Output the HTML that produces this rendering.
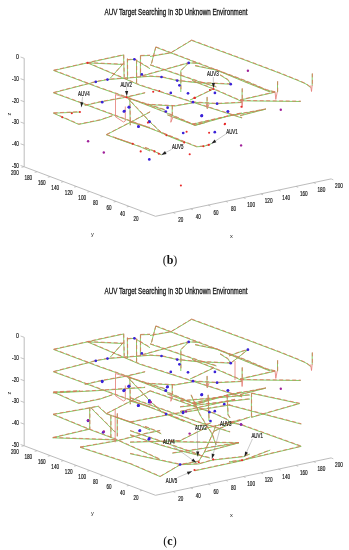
<!DOCTYPE html>
<html><head><meta charset="utf-8"><title>AUV Target Searching</title>
<style>html,body{margin:0;padding:0;background:#fff;}svg{display:block;font-family:'Liberation Sans', Arial, sans-serif;}</style>
</head><body>
<svg width="349" height="550" viewBox="0 0 349 550">
<rect width="349" height="550" fill="#fff"/>
<text x="176.0" y="15.1" font-size="8.8" text-anchor="middle" fill="#1a1a1a" textLength="143" lengthAdjust="spacingAndGlyphs" stroke="#111" stroke-width="0.3">AUV Target Searching In 3D Unknown Environment</text>
<path d="M24.2 58.3V166.8L155.5 216.3L331.1 178.9" fill="none" stroke="#b4b4b4" stroke-width="0.9"/>
<path d="M24.2 58.3l-3.6 -1.3" stroke="#b4b4b4" stroke-width="0.8"/>
<text x="18.9" y="59.3" font-size="7.2" text-anchor="end" fill="#1a1a1a" textLength="2.9" lengthAdjust="spacingAndGlyphs" stroke="#111" stroke-width="0.2">0</text>
<path d="M24.2 80.0l-3.6 -1.3" stroke="#b4b4b4" stroke-width="0.8"/>
<text x="18.9" y="81.0" font-size="7.2" text-anchor="end" fill="#1a1a1a" textLength="6.8" lengthAdjust="spacingAndGlyphs" stroke="#111" stroke-width="0.2">-10</text>
<path d="M24.2 101.7l-3.6 -1.3" stroke="#b4b4b4" stroke-width="0.8"/>
<text x="18.9" y="102.7" font-size="7.2" text-anchor="end" fill="#1a1a1a" textLength="6.8" lengthAdjust="spacingAndGlyphs" stroke="#111" stroke-width="0.2">-20</text>
<path d="M24.2 123.4l-3.6 -1.3" stroke="#b4b4b4" stroke-width="0.8"/>
<text x="18.9" y="124.4" font-size="7.2" text-anchor="end" fill="#1a1a1a" textLength="6.8" lengthAdjust="spacingAndGlyphs" stroke="#111" stroke-width="0.2">-30</text>
<path d="M24.2 145.1l-3.6 -1.3" stroke="#b4b4b4" stroke-width="0.8"/>
<text x="18.9" y="146.1" font-size="7.2" text-anchor="end" fill="#1a1a1a" textLength="6.8" lengthAdjust="spacingAndGlyphs" stroke="#111" stroke-width="0.2">-40</text>
<path d="M24.2 166.8l-3.6 -1.3" stroke="#b4b4b4" stroke-width="0.8"/>
<text x="18.9" y="167.8" font-size="7.2" text-anchor="end" fill="#1a1a1a" textLength="6.8" lengthAdjust="spacingAndGlyphs" stroke="#111" stroke-width="0.2">-50</text>
<path d="M142.3 211.4l-2.4 0.5" stroke="#b4b4b4" stroke-width="0.8"/>
<text x="136.0" y="220.5" font-size="7.2" text-anchor="middle" fill="#1a1a1a" textLength="5.0" lengthAdjust="spacingAndGlyphs" stroke="#111" stroke-width="0.2">20</text>
<path d="M129.2 206.4l-2.4 0.5" stroke="#b4b4b4" stroke-width="0.8"/>
<text x="122.5" y="215.5" font-size="7.2" text-anchor="middle" fill="#1a1a1a" textLength="5.0" lengthAdjust="spacingAndGlyphs" stroke="#111" stroke-width="0.2">40</text>
<path d="M116.0 201.5l-2.4 0.5" stroke="#b4b4b4" stroke-width="0.8"/>
<text x="109.1" y="210.4" font-size="7.2" text-anchor="middle" fill="#1a1a1a" textLength="5.0" lengthAdjust="spacingAndGlyphs" stroke="#111" stroke-width="0.2">60</text>
<path d="M102.9 196.5l-2.4 0.5" stroke="#b4b4b4" stroke-width="0.8"/>
<text x="95.6" y="205.4" font-size="7.2" text-anchor="middle" fill="#1a1a1a" textLength="5.0" lengthAdjust="spacingAndGlyphs" stroke="#111" stroke-width="0.2">80</text>
<path d="M89.7 191.6l-2.4 0.5" stroke="#b4b4b4" stroke-width="0.8"/>
<text x="82.2" y="200.3" font-size="7.2" text-anchor="middle" fill="#1a1a1a" textLength="7.8" lengthAdjust="spacingAndGlyphs" stroke="#111" stroke-width="0.2">100</text>
<path d="M76.5 186.6l-2.4 0.5" stroke="#b4b4b4" stroke-width="0.8"/>
<text x="68.7" y="195.3" font-size="7.2" text-anchor="middle" fill="#1a1a1a" textLength="7.8" lengthAdjust="spacingAndGlyphs" stroke="#111" stroke-width="0.2">120</text>
<path d="M63.4 181.7l-2.4 0.5" stroke="#b4b4b4" stroke-width="0.8"/>
<text x="55.2" y="190.3" font-size="7.2" text-anchor="middle" fill="#1a1a1a" textLength="7.8" lengthAdjust="spacingAndGlyphs" stroke="#111" stroke-width="0.2">140</text>
<path d="M50.2 176.7l-2.4 0.5" stroke="#b4b4b4" stroke-width="0.8"/>
<text x="41.8" y="185.2" font-size="7.2" text-anchor="middle" fill="#1a1a1a" textLength="7.8" lengthAdjust="spacingAndGlyphs" stroke="#111" stroke-width="0.2">160</text>
<path d="M37.1 171.8l-2.4 0.5" stroke="#b4b4b4" stroke-width="0.8"/>
<text x="28.3" y="180.2" font-size="7.2" text-anchor="middle" fill="#1a1a1a" textLength="7.8" lengthAdjust="spacingAndGlyphs" stroke="#111" stroke-width="0.2">180</text>
<path d="M23.9 166.8l-2.4 0.5" stroke="#b4b4b4" stroke-width="0.8"/>
<text x="14.9" y="175.1" font-size="7.2" text-anchor="middle" fill="#1a1a1a" textLength="7.8" lengthAdjust="spacingAndGlyphs" stroke="#111" stroke-width="0.2">200</text>
<path d="M173.1 212.6l2.2 0.9" stroke="#b4b4b4" stroke-width="0.8"/>
<text x="180.7" y="222.4" font-size="7.2" text-anchor="middle" fill="#1a1a1a" textLength="5.0" lengthAdjust="spacingAndGlyphs" stroke="#111" stroke-width="0.2">20</text>
<path d="M190.6 208.8l2.2 0.9" stroke="#b4b4b4" stroke-width="0.8"/>
<text x="198.3" y="218.6" font-size="7.2" text-anchor="middle" fill="#1a1a1a" textLength="5.0" lengthAdjust="spacingAndGlyphs" stroke="#111" stroke-width="0.2">40</text>
<path d="M208.2 205.1l2.2 0.9" stroke="#b4b4b4" stroke-width="0.8"/>
<text x="215.9" y="214.8" font-size="7.2" text-anchor="middle" fill="#1a1a1a" textLength="5.0" lengthAdjust="spacingAndGlyphs" stroke="#111" stroke-width="0.2">60</text>
<path d="M225.7 201.3l2.2 0.9" stroke="#b4b4b4" stroke-width="0.8"/>
<text x="233.5" y="211.0" font-size="7.2" text-anchor="middle" fill="#1a1a1a" textLength="5.0" lengthAdjust="spacingAndGlyphs" stroke="#111" stroke-width="0.2">80</text>
<path d="M243.3 197.6l2.2 0.9" stroke="#b4b4b4" stroke-width="0.8"/>
<text x="251.1" y="207.2" font-size="7.2" text-anchor="middle" fill="#1a1a1a" textLength="7.8" lengthAdjust="spacingAndGlyphs" stroke="#111" stroke-width="0.2">100</text>
<path d="M260.9 193.9l2.2 0.9" stroke="#b4b4b4" stroke-width="0.8"/>
<text x="268.6" y="203.4" font-size="7.2" text-anchor="middle" fill="#1a1a1a" textLength="7.8" lengthAdjust="spacingAndGlyphs" stroke="#111" stroke-width="0.2">120</text>
<path d="M278.4 190.1l2.2 0.9" stroke="#b4b4b4" stroke-width="0.8"/>
<text x="286.2" y="199.6" font-size="7.2" text-anchor="middle" fill="#1a1a1a" textLength="7.8" lengthAdjust="spacingAndGlyphs" stroke="#111" stroke-width="0.2">140</text>
<path d="M296.0 186.4l2.2 0.9" stroke="#b4b4b4" stroke-width="0.8"/>
<text x="303.8" y="195.8" font-size="7.2" text-anchor="middle" fill="#1a1a1a" textLength="7.8" lengthAdjust="spacingAndGlyphs" stroke="#111" stroke-width="0.2">160</text>
<path d="M313.5 182.6l2.2 0.9" stroke="#b4b4b4" stroke-width="0.8"/>
<text x="321.4" y="192.0" font-size="7.2" text-anchor="middle" fill="#1a1a1a" textLength="7.8" lengthAdjust="spacingAndGlyphs" stroke="#111" stroke-width="0.2">180</text>
<path d="M331.1 178.9l2.2 0.9" stroke="#b4b4b4" stroke-width="0.8"/>
<text x="339.0" y="188.2" font-size="7.2" text-anchor="middle" fill="#1a1a1a" textLength="7.8" lengthAdjust="spacingAndGlyphs" stroke="#111" stroke-width="0.2">200</text>
<text x="92.5" y="235.6" font-size="5.6" text-anchor="middle" fill="#1a1a1a">y</text>
<text x="231.5" y="237.6" font-size="5.6" text-anchor="middle" fill="#1a1a1a">x</text>
<text x="0" y="0" font-size="5.6" text-anchor="middle" fill="#1a1a1a" transform="translate(10.8 114.1) rotate(-90)">z</text>
<path d="M53.6 70.5 L87.5 62.9 L100.0 60.1 L123.6 55.0 M123.6 55.0 L124.1 77.2 M87.5 62.9 L123.0 64.5 M123.3 63.6 L110.0 78.5 M127.3 58.8 L127.5 79.4 M127.2 60.0 L134.4 59.3 L150.0 68.7 M136.5 60.0 L136.5 83.0 M140.4 55.8 L140.4 77.2 M140.4 55.8 L150.0 55.5 M53.6 70.5 L100.0 88.0 L126.5 97.2 L165.0 112.2 L195.0 125.4 L227.7 116.2 L265.8 109.2 M87.5 62.9 L140.0 85.3 L195.0 103.0 L242.0 118.0 M53.4 92.8 L95.8 81.8 L107.5 79.6 L150.0 76.3 L161.5 77.0 L177.2 80.6 L195.0 82.5 L230.7 84.2 M220.0 75.0 L228.0 80.0 L230.7 84.2 M53.4 92.8 L81.3 103.0 L100.0 110.0 L145.0 126.5 L162.2 133.0 L196.6 146.8 L203.4 146.3 L208.8 144.9 L211.3 143.7 M126.5 97.1 L149.4 121.5 L162.3 133.7 M129.3 98.6 L165.0 110.0 M53.4 113.2 L79.9 112.0 M53.4 113.2 L62.3 117.2 L78.7 124.4 L100.0 120.1 L112.3 115.9 M78.7 124.4 M84.7 105.5 L100.0 102.0 L126.5 97.2 L145.0 92.9 M106.3 134.8 L131.3 121.9 L150.0 112.0 M106.3 134.8 L140.7 147.0 L150.0 151.0 M129.5 121.9 L150.0 127.9 M115.0 138.0 L133.6 144.4 M145.0 147.7 L154.5 151.4 L158.8 153.7 L161.3 154.9 M129.8 98.0 L130.2 125.4 M155.7 47.2 L151.4 63.7 M155.7 47.2 L170.8 52.9 L200.0 64.0 L245.0 80.8 L266.4 90.0 L275.1 92.2 M191.5 40.4 L170.8 52.9 L150.0 56.5 M191.5 40.4 L245.0 60.1 L280.0 73.3 L298.0 80.5 L306.0 84.0 L310.6 87.5 M142.0 76.0 L188.7 62.9 L200.0 63.5 M188.7 62.9 L180.8 70.8 L180.8 92.0 M150.0 65.0 L200.0 82.0 L216.5 87.0 M195.0 65.8 L216.5 70.1 L245.0 82.0 L270.0 92.0 M275.1 92.2 L240.0 100.1 M240.0 100.8 L300.7 101.5 M240.0 115.8 L265.5 109.2 M277.5 81.5 L277.5 92.2 M312.2 73.7 L312.2 85.6 M242.1 88.6 L242.1 100.0 M192.0 80.7 L213.5 89.0 L242.0 101.5 M213.5 89.0 L194.9 97.9 L190.0 100.0 M192.0 102.2 L217.1 103.7 L242.0 102.5 M192.0 124.4 L242.0 113.0 M145.0 104.4 L175.0 106.0 L192.0 103.0 M172.2 105.8 L172.2 115.1 M162.2 133.0 L166.5 135.3 L184.2 142.5 M167.3 115.0 L194.9 125.3 L205.0 122.7 M207.0 97.2 L207.0 108.7" fill="none" stroke="#7ccc62" stroke-width="0.95" stroke-linejoin="round"/>
<path d="M53.6 70.5 L87.5 62.9 L100.0 60.1 L123.6 55.0 M123.6 55.0 L124.1 77.2 M87.5 62.9 L123.0 64.5 M123.3 63.6 L110.0 78.5 M127.3 58.8 L127.5 79.4 M127.2 60.0 L134.4 59.3 L150.0 68.7 M136.5 60.0 L136.5 83.0 M140.4 55.8 L140.4 77.2 M140.4 55.8 L150.0 55.5 M53.6 70.5 L100.0 88.0 L126.5 97.2 L165.0 112.2 L195.0 125.4 L227.7 116.2 L265.8 109.2 M87.5 62.9 L140.0 85.3 L195.0 103.0 L242.0 118.0 M53.4 92.8 L95.8 81.8 L107.5 79.6 L150.0 76.3 L161.5 77.0 L177.2 80.6 L195.0 82.5 L230.7 84.2 M220.0 75.0 L228.0 80.0 L230.7 84.2 M53.4 92.8 L81.3 103.0 L100.0 110.0 L145.0 126.5 L162.2 133.0 L196.6 146.8 L203.4 146.3 L208.8 144.9 L211.3 143.7 M126.5 97.1 L149.4 121.5 L162.3 133.7 M129.3 98.6 L165.0 110.0 M53.4 113.2 L79.9 112.0 M53.4 113.2 L62.3 117.2 L78.7 124.4 L100.0 120.1 L112.3 115.9 M78.7 124.4 M84.7 105.5 L100.0 102.0 L126.5 97.2 L145.0 92.9 M106.3 134.8 L131.3 121.9 L150.0 112.0 M106.3 134.8 L140.7 147.0 L150.0 151.0 M129.5 121.9 L150.0 127.9 M115.0 138.0 L133.6 144.4 M145.0 147.7 L154.5 151.4 L158.8 153.7 L161.3 154.9 M129.8 98.0 L130.2 125.4 M155.7 47.2 L151.4 63.7 M155.7 47.2 L170.8 52.9 L200.0 64.0 L245.0 80.8 L266.4 90.0 L275.1 92.2 M191.5 40.4 L170.8 52.9 L150.0 56.5 M191.5 40.4 L245.0 60.1 L280.0 73.3 L298.0 80.5 L306.0 84.0 L310.6 87.5 M142.0 76.0 L188.7 62.9 L200.0 63.5 M188.7 62.9 L180.8 70.8 L180.8 92.0 M150.0 65.0 L200.0 82.0 L216.5 87.0 M195.0 65.8 L216.5 70.1 L245.0 82.0 L270.0 92.0 M275.1 92.2 L240.0 100.1 M240.0 100.8 L300.7 101.5 M240.0 115.8 L265.5 109.2 M277.5 81.5 L277.5 92.2 M312.2 73.7 L312.2 85.6 M242.1 88.6 L242.1 100.0 M192.0 80.7 L213.5 89.0 L242.0 101.5 M213.5 89.0 L194.9 97.9 L190.0 100.0 M192.0 102.2 L217.1 103.7 L242.0 102.5 M192.0 124.4 L242.0 113.0 M145.0 104.4 L175.0 106.0 L192.0 103.0 M172.2 105.8 L172.2 115.1 M162.2 133.0 L166.5 135.3 L184.2 142.5 M167.3 115.0 L194.9 125.3 L205.0 122.7 M207.0 97.2 L207.0 108.7" fill="none" stroke="#e07058" stroke-width="0.8" stroke-linejoin="round" stroke-dasharray="4 2.5" transform="translate(0.2 -0.35)"/>
<path d="M310.6 85.6 L311.5 91.5 L312.2 85.0 M275.1 92.2 L275.8 99.4 L277.2 92.0 M241.5 99.5 L242.1 107.5 L242.8 100.0 M115.5 94.5 L115.5 116.8 L123.5 122.0 L125.3 121.0 L125.3 106.5 M115.5 94.5 L126.6 97.9 M206.5 104.0 L207.5 108.7 L209.0 104.0 M171.5 115.0 L170.8 122.3 L173.0 117.0" fill="none" stroke="#e47a74" stroke-width="0.8" stroke-linejoin="round"/>
<circle cx="95.8" cy="81.8" r="1.35" fill="#3a22d8"/>
<circle cx="107.5" cy="79.6" r="1.35" fill="#3a22d8"/>
<circle cx="134.4" cy="59.3" r="1.35" fill="#3a22d8"/>
<circle cx="141.8" cy="74.4" r="1.35" fill="#3a22d8"/>
<circle cx="161.5" cy="77.0" r="1.35" fill="#3a22d8"/>
<circle cx="177.2" cy="80.6" r="1.35" fill="#3a22d8"/>
<circle cx="188.7" cy="62.9" r="1.35" fill="#3a22d8"/>
<circle cx="230.7" cy="84.2" r="1.35" fill="#3a22d8"/>
<circle cx="102.2" cy="102.2" r="1.35" fill="#3a22d8"/>
<circle cx="129.0" cy="107.2" r="1.35" fill="#3a22d8"/>
<circle cx="124.4" cy="111.1" r="1.35" fill="#3a22d8"/>
<circle cx="170.8" cy="92.9" r="1.35" fill="#3a22d8"/>
<circle cx="179.4" cy="85.3" r="1.35" fill="#3a22d8"/>
<circle cx="188.0" cy="93.3" r="1.35" fill="#3a22d8"/>
<circle cx="193.0" cy="102.2" r="1.35" fill="#3a22d8"/>
<circle cx="167.6" cy="107.7" r="1.35" fill="#3a22d8"/>
<circle cx="165.8" cy="111.5" r="1.35" fill="#3a22d8"/>
<circle cx="214.9" cy="92.9" r="1.35" fill="#3a22d8"/>
<circle cx="217.1" cy="103.7" r="1.35" fill="#3a22d8"/>
<circle cx="201.7" cy="115.8" r="1.35" fill="#3a22d8"/>
<circle cx="227.8" cy="111.5" r="1.35" fill="#3a22d8"/>
<circle cx="138.5" cy="126.7" r="1.35" fill="#3a22d8"/>
<circle cx="149.3" cy="159.4" r="1.35" fill="#3a22d8"/>
<circle cx="149.3" cy="121.9" r="1.35" fill="#3a22d8"/>
<circle cx="183.2" cy="133.0" r="1.35" fill="#3a22d8"/>
<circle cx="201.9" cy="115.7" r="1.35" fill="#3a22d8"/>
<circle cx="228.0" cy="111.5" r="1.35" fill="#3a22d8"/>
<circle cx="214.8" cy="132.2" r="1.35" fill="#3a22d8"/>
<circle cx="201.7" cy="115.9" r="1.35" fill="#3a22d8"/>
<circle cx="128.9" cy="107.2" r="1.35" fill="#3a22d8"/>
<circle cx="123.9" cy="111.5" r="1.35" fill="#3a22d8"/>
<circle cx="138.4" cy="126.5" r="1.35" fill="#3a22d8"/>
<circle cx="149.4" cy="121.5" r="1.35" fill="#3a22d8"/>
<circle cx="132.7" cy="143.7" r="1.05" fill="#e82a2a"/>
<circle cx="87.5" cy="62.9" r="1.05" fill="#e82a2a"/>
<circle cx="71.8" cy="113.2" r="1.05" fill="#e82a2a"/>
<circle cx="79.9" cy="112.0" r="1.05" fill="#e82a2a"/>
<circle cx="62.3" cy="117.2" r="1.05" fill="#e82a2a"/>
<circle cx="126.5" cy="97.2" r="1.05" fill="#e82a2a"/>
<circle cx="153.2" cy="91.8" r="1.05" fill="#e82a2a"/>
<circle cx="159.3" cy="91.0" r="1.05" fill="#e82a2a"/>
<circle cx="194.4" cy="97.9" r="1.05" fill="#e82a2a"/>
<circle cx="209.9" cy="90.0" r="1.05" fill="#e82a2a"/>
<circle cx="213.5" cy="89.0" r="1.05" fill="#e82a2a"/>
<circle cx="194.9" cy="97.9" r="1.05" fill="#e82a2a"/>
<circle cx="225.0" cy="123.7" r="1.05" fill="#e82a2a"/>
<circle cx="166.5" cy="135.3" r="1.05" fill="#e82a2a"/>
<circle cx="184.2" cy="142.5" r="1.05" fill="#e82a2a"/>
<circle cx="203.4" cy="146.3" r="1.05" fill="#e82a2a"/>
<circle cx="154.5" cy="151.4" r="1.05" fill="#e82a2a"/>
<circle cx="158.8" cy="153.7" r="1.05" fill="#e82a2a"/>
<circle cx="140.7" cy="151.4" r="1.05" fill="#e82a2a"/>
<circle cx="209.1" cy="132.8" r="1.05" fill="#e82a2a"/>
<circle cx="224.7" cy="124.3" r="1.05" fill="#e82a2a"/>
<circle cx="208.8" cy="144.9" r="1.05" fill="#e82a2a"/>
<circle cx="180.9" cy="185.5" r="1.05" fill="#e82a2a"/>
<circle cx="189.7" cy="154.2" r="1.05" fill="#e82a2a"/>
<circle cx="186.6" cy="131.8" r="1.05" fill="#e82a2a"/>
<circle cx="147.9" cy="122.6" r="1.05" fill="#e82a2a"/>
<circle cx="241.4" cy="106.7" r="1.05" fill="#e82a2a"/>
<circle cx="88.1" cy="141.2" r="1.2" fill="#a0209a"/>
<circle cx="247.9" cy="70.7" r="1.2" fill="#a0209a"/>
<circle cx="280.8" cy="109.8" r="1.2" fill="#a0209a"/>
<circle cx="103.8" cy="152.5" r="1.2" fill="#a0209a"/>
<circle cx="241.1" cy="145.4" r="1.2" fill="#a0209a"/>
<text x="83.8" y="96.1" font-size="7.6" text-anchor="middle" fill="#1a1a1a" textLength="11.6" lengthAdjust="spacingAndGlyphs" stroke="#111" stroke-width="0.22">AUV4</text>
<path d="M82.6 96.9L81.3 107.2" stroke="#888" stroke-width="0.45"/>
<path d="M81.3 107.2L80.3 102.0L83.5 102.4Z" fill="#222"/>
<text x="126.2" y="86.6" font-size="7.6" text-anchor="middle" fill="#1a1a1a" textLength="11.6" lengthAdjust="spacingAndGlyphs" stroke="#111" stroke-width="0.22">AUV2</text>
<path d="M126.5 86.5L126.8 96.0" stroke="#888" stroke-width="0.45"/>
<path d="M126.8 96.0L125.0 91.1L128.2 91.0Z" fill="#222"/>
<text x="212.9" y="76.4" font-size="7.6" text-anchor="middle" fill="#1a1a1a" textLength="11.6" lengthAdjust="spacingAndGlyphs" stroke="#111" stroke-width="0.22">AUV3</text>
<path d="M213.3 77.0L213.5 88.0" stroke="#888" stroke-width="0.45"/>
<path d="M213.5 88.0L211.8 83.0L215.0 83.0Z" fill="#222"/>
<text x="232.0" y="133.5" font-size="7.6" text-anchor="middle" fill="#1a1a1a" textLength="11.6" lengthAdjust="spacingAndGlyphs" stroke="#111" stroke-width="0.22">AUV1</text>
<path d="M226.8 133.4L211.3 143.7" stroke="#888" stroke-width="0.45"/>
<path d="M211.3 143.7L214.6 139.6L216.3 142.3Z" fill="#222"/>
<text x="177.7" y="149.2" font-size="7.6" text-anchor="middle" fill="#1a1a1a" textLength="11.6" lengthAdjust="spacingAndGlyphs" stroke="#111" stroke-width="0.22">AUV5</text>
<path d="M171.6 149.4L161.3 154.9" stroke="#888" stroke-width="0.45"/>
<path d="M161.3 154.9L165.0 151.1L166.5 154.0Z" fill="#222"/>
<text x="176.0" y="294.1" font-size="8.8" text-anchor="middle" fill="#1a1a1a" textLength="143" lengthAdjust="spacingAndGlyphs" stroke="#111" stroke-width="0.3">AUV Target Searching In 3D Unknown Environment</text>
<path d="M24.2 337.3V445.8L155.5 495.3L331.1 457.9" fill="none" stroke="#b4b4b4" stroke-width="0.9"/>
<path d="M24.2 337.3l-3.6 -1.3" stroke="#b4b4b4" stroke-width="0.8"/>
<text x="18.9" y="338.2" font-size="7.2" text-anchor="end" fill="#1a1a1a" textLength="2.9" lengthAdjust="spacingAndGlyphs" stroke="#111" stroke-width="0.2">0</text>
<path d="M24.2 359.0l-3.6 -1.3" stroke="#b4b4b4" stroke-width="0.8"/>
<text x="18.9" y="359.9" font-size="7.2" text-anchor="end" fill="#1a1a1a" textLength="6.8" lengthAdjust="spacingAndGlyphs" stroke="#111" stroke-width="0.2">-10</text>
<path d="M24.2 380.7l-3.6 -1.3" stroke="#b4b4b4" stroke-width="0.8"/>
<text x="18.9" y="381.6" font-size="7.2" text-anchor="end" fill="#1a1a1a" textLength="6.8" lengthAdjust="spacingAndGlyphs" stroke="#111" stroke-width="0.2">-20</text>
<path d="M24.2 402.4l-3.6 -1.3" stroke="#b4b4b4" stroke-width="0.8"/>
<text x="18.9" y="403.3" font-size="7.2" text-anchor="end" fill="#1a1a1a" textLength="6.8" lengthAdjust="spacingAndGlyphs" stroke="#111" stroke-width="0.2">-30</text>
<path d="M24.2 424.1l-3.6 -1.3" stroke="#b4b4b4" stroke-width="0.8"/>
<text x="18.9" y="425.1" font-size="7.2" text-anchor="end" fill="#1a1a1a" textLength="6.8" lengthAdjust="spacingAndGlyphs" stroke="#111" stroke-width="0.2">-40</text>
<path d="M24.2 445.8l-3.6 -1.3" stroke="#b4b4b4" stroke-width="0.8"/>
<text x="18.9" y="446.8" font-size="7.2" text-anchor="end" fill="#1a1a1a" textLength="6.8" lengthAdjust="spacingAndGlyphs" stroke="#111" stroke-width="0.2">-50</text>
<path d="M142.3 490.4l-2.4 0.5" stroke="#b4b4b4" stroke-width="0.8"/>
<text x="136.0" y="499.5" font-size="7.2" text-anchor="middle" fill="#1a1a1a" textLength="5.0" lengthAdjust="spacingAndGlyphs" stroke="#111" stroke-width="0.2">20</text>
<path d="M129.2 485.4l-2.4 0.5" stroke="#b4b4b4" stroke-width="0.8"/>
<text x="122.5" y="494.5" font-size="7.2" text-anchor="middle" fill="#1a1a1a" textLength="5.0" lengthAdjust="spacingAndGlyphs" stroke="#111" stroke-width="0.2">40</text>
<path d="M116.0 480.4l-2.4 0.5" stroke="#b4b4b4" stroke-width="0.8"/>
<text x="109.1" y="489.4" font-size="7.2" text-anchor="middle" fill="#1a1a1a" textLength="5.0" lengthAdjust="spacingAndGlyphs" stroke="#111" stroke-width="0.2">60</text>
<path d="M102.9 475.5l-2.4 0.5" stroke="#b4b4b4" stroke-width="0.8"/>
<text x="95.6" y="484.4" font-size="7.2" text-anchor="middle" fill="#1a1a1a" textLength="5.0" lengthAdjust="spacingAndGlyphs" stroke="#111" stroke-width="0.2">80</text>
<path d="M89.7 470.6l-2.4 0.5" stroke="#b4b4b4" stroke-width="0.8"/>
<text x="82.2" y="479.3" font-size="7.2" text-anchor="middle" fill="#1a1a1a" textLength="7.8" lengthAdjust="spacingAndGlyphs" stroke="#111" stroke-width="0.2">100</text>
<path d="M76.5 465.6l-2.4 0.5" stroke="#b4b4b4" stroke-width="0.8"/>
<text x="68.7" y="474.3" font-size="7.2" text-anchor="middle" fill="#1a1a1a" textLength="7.8" lengthAdjust="spacingAndGlyphs" stroke="#111" stroke-width="0.2">120</text>
<path d="M63.4 460.7l-2.4 0.5" stroke="#b4b4b4" stroke-width="0.8"/>
<text x="55.2" y="469.3" font-size="7.2" text-anchor="middle" fill="#1a1a1a" textLength="7.8" lengthAdjust="spacingAndGlyphs" stroke="#111" stroke-width="0.2">140</text>
<path d="M50.2 455.7l-2.4 0.5" stroke="#b4b4b4" stroke-width="0.8"/>
<text x="41.8" y="464.2" font-size="7.2" text-anchor="middle" fill="#1a1a1a" textLength="7.8" lengthAdjust="spacingAndGlyphs" stroke="#111" stroke-width="0.2">160</text>
<path d="M37.1 450.8l-2.4 0.5" stroke="#b4b4b4" stroke-width="0.8"/>
<text x="28.3" y="459.2" font-size="7.2" text-anchor="middle" fill="#1a1a1a" textLength="7.8" lengthAdjust="spacingAndGlyphs" stroke="#111" stroke-width="0.2">180</text>
<path d="M23.9 445.8l-2.4 0.5" stroke="#b4b4b4" stroke-width="0.8"/>
<text x="14.9" y="454.1" font-size="7.2" text-anchor="middle" fill="#1a1a1a" textLength="7.8" lengthAdjust="spacingAndGlyphs" stroke="#111" stroke-width="0.2">200</text>
<path d="M173.1 491.6l2.2 0.9" stroke="#b4b4b4" stroke-width="0.8"/>
<text x="180.7" y="501.4" font-size="7.2" text-anchor="middle" fill="#1a1a1a" textLength="5.0" lengthAdjust="spacingAndGlyphs" stroke="#111" stroke-width="0.2">20</text>
<path d="M190.6 487.8l2.2 0.9" stroke="#b4b4b4" stroke-width="0.8"/>
<text x="198.3" y="497.6" font-size="7.2" text-anchor="middle" fill="#1a1a1a" textLength="5.0" lengthAdjust="spacingAndGlyphs" stroke="#111" stroke-width="0.2">40</text>
<path d="M208.2 484.1l2.2 0.9" stroke="#b4b4b4" stroke-width="0.8"/>
<text x="215.9" y="493.8" font-size="7.2" text-anchor="middle" fill="#1a1a1a" textLength="5.0" lengthAdjust="spacingAndGlyphs" stroke="#111" stroke-width="0.2">60</text>
<path d="M225.7 480.3l2.2 0.9" stroke="#b4b4b4" stroke-width="0.8"/>
<text x="233.5" y="490.0" font-size="7.2" text-anchor="middle" fill="#1a1a1a" textLength="5.0" lengthAdjust="spacingAndGlyphs" stroke="#111" stroke-width="0.2">80</text>
<path d="M243.3 476.6l2.2 0.9" stroke="#b4b4b4" stroke-width="0.8"/>
<text x="251.1" y="486.2" font-size="7.2" text-anchor="middle" fill="#1a1a1a" textLength="7.8" lengthAdjust="spacingAndGlyphs" stroke="#111" stroke-width="0.2">100</text>
<path d="M260.9 472.9l2.2 0.9" stroke="#b4b4b4" stroke-width="0.8"/>
<text x="268.6" y="482.4" font-size="7.2" text-anchor="middle" fill="#1a1a1a" textLength="7.8" lengthAdjust="spacingAndGlyphs" stroke="#111" stroke-width="0.2">120</text>
<path d="M278.4 469.1l2.2 0.9" stroke="#b4b4b4" stroke-width="0.8"/>
<text x="286.2" y="478.6" font-size="7.2" text-anchor="middle" fill="#1a1a1a" textLength="7.8" lengthAdjust="spacingAndGlyphs" stroke="#111" stroke-width="0.2">140</text>
<path d="M296.0 465.4l2.2 0.9" stroke="#b4b4b4" stroke-width="0.8"/>
<text x="303.8" y="474.8" font-size="7.2" text-anchor="middle" fill="#1a1a1a" textLength="7.8" lengthAdjust="spacingAndGlyphs" stroke="#111" stroke-width="0.2">160</text>
<path d="M313.5 461.6l2.2 0.9" stroke="#b4b4b4" stroke-width="0.8"/>
<text x="321.4" y="471.0" font-size="7.2" text-anchor="middle" fill="#1a1a1a" textLength="7.8" lengthAdjust="spacingAndGlyphs" stroke="#111" stroke-width="0.2">180</text>
<path d="M331.1 457.9l2.2 0.9" stroke="#b4b4b4" stroke-width="0.8"/>
<text x="339.0" y="467.2" font-size="7.2" text-anchor="middle" fill="#1a1a1a" textLength="7.8" lengthAdjust="spacingAndGlyphs" stroke="#111" stroke-width="0.2">200</text>
<text x="92.5" y="514.6" font-size="5.6" text-anchor="middle" fill="#1a1a1a">y</text>
<text x="231.5" y="516.6" font-size="5.6" text-anchor="middle" fill="#1a1a1a">x</text>
<text x="0" y="0" font-size="5.6" text-anchor="middle" fill="#1a1a1a" transform="translate(10.8 393.1) rotate(-90)">z</text>
<path d="M53.6 349.5 L87.5 341.9 L100.0 339.1 L123.6 334.0 M123.6 334.0 L124.1 356.2 M87.5 341.9 L123.0 343.5 M123.3 342.6 L110.0 357.5 M127.3 337.8 L127.5 358.4 M127.2 339.0 L134.4 338.3 L150.0 347.7 M136.5 339.0 L136.5 362.0 M140.4 334.8 L140.4 356.2 M140.4 334.8 L150.0 334.5 M53.6 349.5 L100.0 367.0 L126.5 376.2 L165.0 391.2 L195.0 404.4 L227.7 395.2 L265.8 388.2 M87.5 341.9 L140.0 364.3 L195.0 382.0 L242.0 397.0 M53.4 371.8 L95.8 360.8 L107.5 358.6 L150.0 355.3 L161.5 356.0 L177.2 359.6 L195.0 361.5 L230.7 363.2 M220.0 354.0 L228.0 359.0 L230.7 363.2 M53.4 371.8 L81.3 382.0 L100.0 389.0 L145.0 405.5 L162.2 412.0 L196.6 425.8 L203.4 425.3 L208.8 423.9 L211.3 422.7 M126.5 376.1 L149.4 400.5 L162.3 412.7 M129.3 377.6 L165.0 389.0 M53.4 392.2 L79.9 391.0 M53.4 392.2 L62.3 396.2 L78.7 403.4 L100.0 399.1 L112.3 394.9 M78.7 403.4 M84.7 384.5 L100.0 381.0 L126.5 376.2 L145.0 371.9 M106.3 413.8 L131.3 400.9 L150.0 391.0 M106.3 413.8 L140.7 426.0 L150.0 430.0 M129.5 400.9 L150.0 406.9 M115.0 417.0 L133.6 423.4 M145.0 426.7 L154.5 430.4 L158.8 432.7 L161.3 433.9 M129.8 377.0 L130.2 404.4 M155.7 326.2 L151.4 342.7 M155.7 326.2 L170.8 331.9 L200.0 343.0 L245.0 359.8 L266.4 369.0 L275.1 371.2 M191.5 319.4 L170.8 331.9 L150.0 335.5 M191.5 319.4 L245.0 339.1 L280.0 352.3 L298.0 359.5 L306.0 363.0 L310.6 366.5 M142.0 355.0 L188.7 341.9 L200.0 342.5 M188.7 341.9 L180.8 349.8 L180.8 371.0 M150.0 344.0 L200.0 361.0 L216.5 366.0 M195.0 344.8 L216.5 349.1 L245.0 361.0 L270.0 371.0 M275.1 371.2 L240.0 379.1 M240.0 379.8 L300.7 380.5 M240.0 394.8 L265.5 388.2 M277.5 360.5 L277.5 371.2 M312.2 352.7 L312.2 364.6 M242.1 367.6 L242.1 379.0 M192.0 359.7 L213.5 368.0 L242.0 380.5 M213.5 368.0 L194.9 376.9 L190.0 379.0 M192.0 381.2 L217.1 382.7 L242.0 381.5 M192.0 403.4 L242.0 392.0 M145.0 383.4 L175.0 385.0 L192.0 382.0 M172.2 384.8 L172.2 394.1 M162.2 412.0 L166.5 414.3 L184.2 421.5 M167.3 394.0 L194.9 404.3 L205.0 401.7 M207.0 376.2 L207.0 387.7 M52.9 393.0 L95.0 390.8 L145.0 387.5 M53.0 414.5 L90.0 408.0 L98.0 406.3 L106.3 413.8 M53.0 414.5 L89.0 429.3 L113.8 438.5 L160.0 459.4 M89.7 407.5 L89.7 429.5 M52.7 437.8 L89.0 429.3 M52.7 437.8 L113.8 439.9 L117.3 440.8 M80.0 447.3 L117.3 440.8 L145.0 433.7 L160.0 430.7 M80.0 447.3 L130.0 463.7 L160.1 476.6 M90.8 407.9 L115.2 432.3 M110.8 415.0 L110.8 438.0 M117.2 413.6 L117.2 436.5 M160.1 476.6 L180.3 464.7 L198.7 461.3 L204.4 452.1 L213.6 431.5 L216.0 425.0 M130.0 435.0 L160.0 445.0 L185.0 452.0 L210.0 458.0 M130.0 453.7 L180.1 464.5 M251.4 393.3 L251.4 417.4 M251.4 393.3 L299.5 403.6 L251.4 417.4 M229.0 405.2 L301.2 424.1 M229.0 422.4 L241.0 424.8 L301.2 446.4 L242.8 460.2 L229.0 461.9 M194.7 470.8 L242.8 460.5 L270.0 450.2 M150.0 391.0 L180.0 401.3 L214.4 413.6 L229.0 420.5 M180.0 411.6 L235.0 399.5 M130.0 442.3 L180.0 440.8 L204.0 428.8 L240.0 420.0 M229.0 356.0 L240.0 352.0 L247.9 349.7 M231.0 363.0 L240.0 356.0 L247.9 349.7 M180.0 401.0 L250.0 395.0 M180.0 407.0 L250.0 399.0 M191.0 395.0 L200.0 415.0 L212.0 434.0 L216.0 445.0 M208.0 395.0 L209.0 421.0 M227.0 395.0 L228.0 415.0 L230.0 418.0 M170.0 441.8 L238.8 442.9 L204.4 452.1 M172.3 453.2 L238.8 442.9 M213.6 431.5 L230.0 424.0 L250.0 417.0 M180.3 464.7 L198.7 464.0 L212.4 460.1 L243.4 456.7 L250.0 454.0 M130.0 397.9 L160.0 408.5 L195.0 421.0 L230.0 432.0 M130.0 430.8 L160.0 441.0 L200.0 455.0 M130.0 422.2 L170.0 414.5 L230.0 405.0" fill="none" stroke="#7ccc62" stroke-width="0.95" stroke-linejoin="round"/>
<path d="M53.6 349.5 L87.5 341.9 L100.0 339.1 L123.6 334.0 M123.6 334.0 L124.1 356.2 M87.5 341.9 L123.0 343.5 M123.3 342.6 L110.0 357.5 M127.3 337.8 L127.5 358.4 M127.2 339.0 L134.4 338.3 L150.0 347.7 M136.5 339.0 L136.5 362.0 M140.4 334.8 L140.4 356.2 M140.4 334.8 L150.0 334.5 M53.6 349.5 L100.0 367.0 L126.5 376.2 L165.0 391.2 L195.0 404.4 L227.7 395.2 L265.8 388.2 M87.5 341.9 L140.0 364.3 L195.0 382.0 L242.0 397.0 M53.4 371.8 L95.8 360.8 L107.5 358.6 L150.0 355.3 L161.5 356.0 L177.2 359.6 L195.0 361.5 L230.7 363.2 M220.0 354.0 L228.0 359.0 L230.7 363.2 M53.4 371.8 L81.3 382.0 L100.0 389.0 L145.0 405.5 L162.2 412.0 L196.6 425.8 L203.4 425.3 L208.8 423.9 L211.3 422.7 M126.5 376.1 L149.4 400.5 L162.3 412.7 M129.3 377.6 L165.0 389.0 M53.4 392.2 L79.9 391.0 M53.4 392.2 L62.3 396.2 L78.7 403.4 L100.0 399.1 L112.3 394.9 M78.7 403.4 M84.7 384.5 L100.0 381.0 L126.5 376.2 L145.0 371.9 M106.3 413.8 L131.3 400.9 L150.0 391.0 M106.3 413.8 L140.7 426.0 L150.0 430.0 M129.5 400.9 L150.0 406.9 M115.0 417.0 L133.6 423.4 M145.0 426.7 L154.5 430.4 L158.8 432.7 L161.3 433.9 M129.8 377.0 L130.2 404.4 M155.7 326.2 L151.4 342.7 M155.7 326.2 L170.8 331.9 L200.0 343.0 L245.0 359.8 L266.4 369.0 L275.1 371.2 M191.5 319.4 L170.8 331.9 L150.0 335.5 M191.5 319.4 L245.0 339.1 L280.0 352.3 L298.0 359.5 L306.0 363.0 L310.6 366.5 M142.0 355.0 L188.7 341.9 L200.0 342.5 M188.7 341.9 L180.8 349.8 L180.8 371.0 M150.0 344.0 L200.0 361.0 L216.5 366.0 M195.0 344.8 L216.5 349.1 L245.0 361.0 L270.0 371.0 M275.1 371.2 L240.0 379.1 M240.0 379.8 L300.7 380.5 M240.0 394.8 L265.5 388.2 M277.5 360.5 L277.5 371.2 M312.2 352.7 L312.2 364.6 M242.1 367.6 L242.1 379.0 M192.0 359.7 L213.5 368.0 L242.0 380.5 M213.5 368.0 L194.9 376.9 L190.0 379.0 M192.0 381.2 L217.1 382.7 L242.0 381.5 M192.0 403.4 L242.0 392.0 M145.0 383.4 L175.0 385.0 L192.0 382.0 M172.2 384.8 L172.2 394.1 M162.2 412.0 L166.5 414.3 L184.2 421.5 M167.3 394.0 L194.9 404.3 L205.0 401.7 M207.0 376.2 L207.0 387.7 M52.9 393.0 L95.0 390.8 L145.0 387.5 M53.0 414.5 L90.0 408.0 L98.0 406.3 L106.3 413.8 M53.0 414.5 L89.0 429.3 L113.8 438.5 L160.0 459.4 M89.7 407.5 L89.7 429.5 M52.7 437.8 L89.0 429.3 M52.7 437.8 L113.8 439.9 L117.3 440.8 M80.0 447.3 L117.3 440.8 L145.0 433.7 L160.0 430.7 M80.0 447.3 L130.0 463.7 L160.1 476.6 M90.8 407.9 L115.2 432.3 M110.8 415.0 L110.8 438.0 M117.2 413.6 L117.2 436.5 M160.1 476.6 L180.3 464.7 L198.7 461.3 L204.4 452.1 L213.6 431.5 L216.0 425.0 M130.0 435.0 L160.0 445.0 L185.0 452.0 L210.0 458.0 M130.0 453.7 L180.1 464.5 M251.4 393.3 L251.4 417.4 M251.4 393.3 L299.5 403.6 L251.4 417.4 M229.0 405.2 L301.2 424.1 M229.0 422.4 L241.0 424.8 L301.2 446.4 L242.8 460.2 L229.0 461.9 M194.7 470.8 L242.8 460.5 L270.0 450.2 M150.0 391.0 L180.0 401.3 L214.4 413.6 L229.0 420.5 M180.0 411.6 L235.0 399.5 M130.0 442.3 L180.0 440.8 L204.0 428.8 L240.0 420.0 M229.0 356.0 L240.0 352.0 L247.9 349.7 M231.0 363.0 L240.0 356.0 L247.9 349.7 M180.0 401.0 L250.0 395.0 M180.0 407.0 L250.0 399.0 M191.0 395.0 L200.0 415.0 L212.0 434.0 L216.0 445.0 M208.0 395.0 L209.0 421.0 M227.0 395.0 L228.0 415.0 L230.0 418.0 M170.0 441.8 L238.8 442.9 L204.4 452.1 M172.3 453.2 L238.8 442.9 M213.6 431.5 L230.0 424.0 L250.0 417.0 M180.3 464.7 L198.7 464.0 L212.4 460.1 L243.4 456.7 L250.0 454.0 M130.0 397.9 L160.0 408.5 L195.0 421.0 L230.0 432.0 M130.0 430.8 L160.0 441.0 L200.0 455.0 M130.0 422.2 L170.0 414.5 L230.0 405.0" fill="none" stroke="#e07058" stroke-width="0.8" stroke-linejoin="round" stroke-dasharray="4 2.5" transform="translate(0.2 -0.35)"/>
<path d="M310.6 364.6 L311.5 370.5 L312.2 364.0 M275.1 371.2 L275.8 378.4 L277.2 371.0 M241.5 378.5 L242.1 386.5 L242.8 379.0 M115.5 373.5 L115.5 395.8 L123.5 401.0 L125.3 400.0 L125.3 385.5 M115.5 373.5 L126.6 376.9 M206.5 383.0 L207.5 387.7 L209.0 383.0 M171.5 394.0 L170.8 401.3 L173.0 396.0 M115.2 409.4 L115.2 442.3 M235.0 361.0 L235.0 380.0" fill="none" stroke="#e47a74" stroke-width="0.8" stroke-linejoin="round"/>
<circle cx="95.8" cy="360.8" r="1.35" fill="#3a22d8"/>
<circle cx="107.5" cy="358.6" r="1.35" fill="#3a22d8"/>
<circle cx="134.4" cy="338.3" r="1.35" fill="#3a22d8"/>
<circle cx="141.8" cy="353.4" r="1.35" fill="#3a22d8"/>
<circle cx="161.5" cy="356.0" r="1.35" fill="#3a22d8"/>
<circle cx="177.2" cy="359.6" r="1.35" fill="#3a22d8"/>
<circle cx="188.7" cy="341.9" r="1.35" fill="#3a22d8"/>
<circle cx="230.7" cy="363.2" r="1.35" fill="#3a22d8"/>
<circle cx="102.2" cy="381.2" r="1.35" fill="#3a22d8"/>
<circle cx="129.0" cy="386.2" r="1.35" fill="#3a22d8"/>
<circle cx="124.4" cy="390.1" r="1.35" fill="#3a22d8"/>
<circle cx="170.8" cy="371.9" r="1.35" fill="#3a22d8"/>
<circle cx="179.4" cy="364.3" r="1.35" fill="#3a22d8"/>
<circle cx="188.0" cy="372.3" r="1.35" fill="#3a22d8"/>
<circle cx="193.0" cy="381.2" r="1.35" fill="#3a22d8"/>
<circle cx="167.6" cy="386.7" r="1.35" fill="#3a22d8"/>
<circle cx="165.8" cy="390.5" r="1.35" fill="#3a22d8"/>
<circle cx="214.9" cy="371.9" r="1.35" fill="#3a22d8"/>
<circle cx="217.1" cy="382.7" r="1.35" fill="#3a22d8"/>
<circle cx="201.7" cy="394.8" r="1.35" fill="#3a22d8"/>
<circle cx="227.8" cy="390.5" r="1.35" fill="#3a22d8"/>
<circle cx="138.5" cy="405.7" r="1.35" fill="#3a22d8"/>
<circle cx="149.3" cy="438.4" r="1.35" fill="#3a22d8"/>
<circle cx="149.3" cy="400.9" r="1.35" fill="#3a22d8"/>
<circle cx="183.2" cy="412.0" r="1.35" fill="#3a22d8"/>
<circle cx="201.9" cy="394.7" r="1.35" fill="#3a22d8"/>
<circle cx="228.0" cy="390.5" r="1.35" fill="#3a22d8"/>
<circle cx="214.8" cy="411.2" r="1.35" fill="#3a22d8"/>
<circle cx="201.7" cy="394.9" r="1.35" fill="#3a22d8"/>
<circle cx="128.9" cy="386.2" r="1.35" fill="#3a22d8"/>
<circle cx="123.9" cy="390.5" r="1.35" fill="#3a22d8"/>
<circle cx="138.4" cy="405.5" r="1.35" fill="#3a22d8"/>
<circle cx="149.4" cy="400.5" r="1.35" fill="#3a22d8"/>
<circle cx="88.0" cy="420.8" r="1.35" fill="#3a22d8"/>
<circle cx="103.2" cy="432.3" r="1.35" fill="#3a22d8"/>
<circle cx="138.1" cy="405.6" r="1.35" fill="#3a22d8"/>
<circle cx="139.6" cy="430.8" r="1.35" fill="#3a22d8"/>
<circle cx="148.8" cy="439.3" r="1.35" fill="#3a22d8"/>
<circle cx="140.0" cy="430.7" r="1.35" fill="#3a22d8"/>
<circle cx="180.1" cy="464.5" r="1.35" fill="#3a22d8"/>
<circle cx="167.2" cy="387.2" r="1.35" fill="#3a22d8"/>
<circle cx="165.8" cy="390.7" r="1.35" fill="#3a22d8"/>
<circle cx="149.3" cy="402.2" r="1.35" fill="#3a22d8"/>
<circle cx="166.1" cy="414.1" r="1.35" fill="#3a22d8"/>
<circle cx="183.0" cy="413.0" r="1.35" fill="#3a22d8"/>
<circle cx="241.0" cy="424.5" r="1.35" fill="#3a22d8"/>
<circle cx="102.2" cy="381.8" r="1.35" fill="#3a22d8"/>
<circle cx="128.7" cy="386.5" r="1.35" fill="#3a22d8"/>
<circle cx="123.7" cy="390.8" r="1.35" fill="#3a22d8"/>
<circle cx="247.9" cy="349.7" r="1.35" fill="#3a22d8"/>
<circle cx="209.4" cy="412.2" r="1.35" fill="#3a22d8"/>
<circle cx="210.5" cy="421.0" r="1.35" fill="#3a22d8"/>
<circle cx="224.3" cy="404.2" r="1.35" fill="#3a22d8"/>
<circle cx="198.8" cy="462.2" r="1.05" fill="#e82a2a"/>
<circle cx="213.1" cy="459.4" r="1.05" fill="#e82a2a"/>
<circle cx="194.5" cy="470.0" r="1.05" fill="#e82a2a"/>
<circle cx="242.1" cy="460.2" r="1.05" fill="#e82a2a"/>
<circle cx="88.1" cy="420.2" r="1.2" fill="#a0209a"/>
<circle cx="280.8" cy="388.8" r="1.2" fill="#a0209a"/>
<circle cx="103.8" cy="431.5" r="1.2" fill="#a0209a"/>
<circle cx="241.1" cy="424.4" r="1.2" fill="#a0209a"/>
<circle cx="189.6" cy="433.6" r="1.2" fill="#a0209a"/>
<circle cx="186.1" cy="411.5" r="1.2" fill="#a0209a"/>
<circle cx="150.8" cy="402.2" r="1.2" fill="#a0209a"/>
<text x="200.9" y="429.8" font-size="7.6" text-anchor="middle" fill="#1a1a1a" textLength="11.6" lengthAdjust="spacingAndGlyphs" stroke="#111" stroke-width="0.22">AUV2</text>
<path d="M197.3 430.5L197.8 456.6" stroke="#888" stroke-width="0.45"/>
<path d="M197.8 456.6L196.1 451.6L199.3 451.6Z" fill="#222"/>
<text x="225.7" y="426.1" font-size="7.6" text-anchor="middle" fill="#1a1a1a" textLength="11.6" lengthAdjust="spacingAndGlyphs" stroke="#111" stroke-width="0.22">AUV3</text>
<path d="M220.5 427.0L211.9 458.8" stroke="#888" stroke-width="0.45"/>
<path d="M211.9 458.8L211.7 453.6L214.7 454.4Z" fill="#222"/>
<text x="168.9" y="444.4" font-size="7.6" text-anchor="middle" fill="#1a1a1a" textLength="11.6" lengthAdjust="spacingAndGlyphs" stroke="#111" stroke-width="0.22">AUV4</text>
<path d="M172.3 445.5L196.4 462.7" stroke="#888" stroke-width="0.45"/>
<path d="M196.4 462.7L191.4 461.1L193.3 458.5Z" fill="#222"/>
<text x="257.2" y="438.1" font-size="7.6" text-anchor="middle" fill="#1a1a1a" textLength="11.6" lengthAdjust="spacingAndGlyphs" stroke="#111" stroke-width="0.22">AUV1</text>
<path d="M252.4 439.0L244.5 456.7" stroke="#888" stroke-width="0.45"/>
<path d="M244.5 456.7L245.1 451.5L248.0 452.8Z" fill="#222"/>
<text x="171.5" y="482.6" font-size="7.6" text-anchor="middle" fill="#1a1a1a" textLength="11.6" lengthAdjust="spacingAndGlyphs" stroke="#111" stroke-width="0.22">AUV5</text>
<path d="M177.5 477.5L192.1 471.3" stroke="#888" stroke-width="0.45"/>
<path d="M192.1 471.3L188.1 474.7L186.9 471.8Z" fill="#222"/>
<text x="170.0" y="264.0" font-size="12" text-anchor="middle" fill="#111" font-family="'Liberation Serif', serif">(<tspan font-weight="bold">b</tspan>)</text>
<text x="170.0" y="544.6" font-size="12" text-anchor="middle" fill="#111" font-family="'Liberation Serif', serif">(<tspan font-weight="bold">c</tspan>)</text>
</svg>
</body></html>
